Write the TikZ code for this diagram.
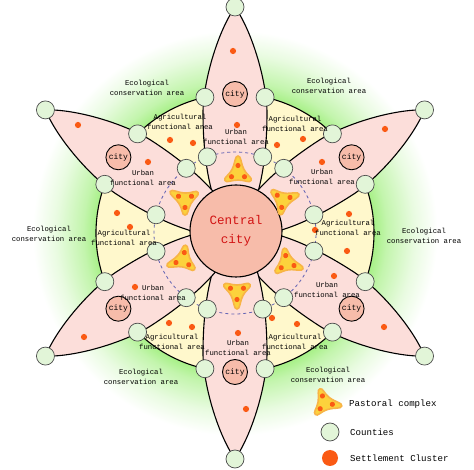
\documentclass[tikz,border=0pt]{standalone}
\usepackage{fontspec}
\newfontfamily\labelfont{Liberation Mono}
\definecolor{petalpink}{RGB}{252,222,218}
\definecolor{agriyellow}{RGB}{255,248,204}
\definecolor{glowgreen}{RGB}{155,238,118}
\definecolor{citysalmon}{RGB}{247,188,170}
\definecolor{countygreen}{RGB}{226,245,216}
\definecolor{settleorange}{RGB}{250,90,20}
\definecolor{pastyellow}{RGB}{252,210,60}
\definecolor{pastorange}{RGB}{248,180,70}
\definecolor{ringblue}{RGB}{100,100,180}
\definecolor{centralred}{RGB}{210,20,20}
\pgfdeclareradialshading{ecoglow}{\pgfpointorigin}{color(0bp)=(glowgreen); color(14.5bp)=(glowgreen); color(16.5bp)=(glowgreen!60); color(19.5bp)=(glowgreen!22); color(22bp)=(white); color(50bp)=(white)}
\tikzset{
  pics/pastoral/.style={code={
    \filldraw[draw=pastorange, line width=1.6, fill=pastyellow]
      plot[smooth cycle, tension=1] coordinates {(90:17) (150:7) (210:15) (270:7) (330:15) (30:7)};
    \fill[settleorange] (90:7.5) circle (2.6) (210:7.5) circle (2.6) (330:7.5) circle (2.6);
  }}
}
\begin{document}
\begin{tikzpicture}[x=1pt,y=1pt,
    petal/.style={fill=petalpink, draw=black, line width=1.1},
    county/.style={circle, draw=gray!60!black, line width=0.7, fill=countygreen, minimum size=18, inner sep=0},
    city/.style={circle, draw=black, line width=0.9, fill=citysalmon, minimum size=25, inner sep=0, font=\labelfont\fontsize{8}{8}\selectfont},
    arealabel/.style={align=center, text=black, inner sep=0, font=\labelfont\fontsize{7.3}{10}\selectfont},
    settle/.style={fill=settleorange},
    legendtext/.style={anchor=west, inner sep=0, text=black, font=\labelfont\fontsize{9.1}{11}\selectfont}]
  \useasboundingbox[fill=white] (-235,-237) rectangle (239,233);
  % green glow of the conservation areas
  \shade[shading=ecoglow] (0,0) circle (230);
  \filldraw[fill=agriyellow, draw=black, line width=1.1] (0,0) circle (139);
  % the six petals
  \foreach \a in {90,33,-33,-90,-147,147}
    \filldraw[petal, rotate=\a] (0,0) .. controls (20,25) and (75,32) .. (120,32)
      .. controls (150,32) and (200,18) .. (226,0)
      .. controls (200,-18) and (150,-32) .. (120,-32)
      .. controls (75,-32) and (20,-25) .. (0,0) -- cycle;
  \draw[ringblue, dashed, line width=0.8] (0,0) circle (81);
  \node[circle, draw=black, line width=1.1, fill=citysalmon, minimum size=92, inner sep=0,
    align=center, text=centralred, font=\labelfont\fontsize{12.6}{19}\selectfont] (central) at (1,2) {Central\\city};
  % pastoral complexes
  \pic[rotate=0] (past-n) at (3,60) {pastoral};
  \pic[rotate=-70] (past-ne) at (48,33) {pastoral};
  \pic[rotate=-110] (past-se) at (52,-30) {pastoral};
  \pic[rotate=180] (past-s) at (2,-59) {pastoral};
  \pic[rotate=110] (past-sw) at (-52,-27) {pastoral};
  \pic[rotate=60] (past-nw) at (-50,33) {pastoral};
  % settlement clusters
  \foreach \p in {(-2,182),(-157,108),(150,104),(11,-176),(-151,-104),(149,-94),
      (2,108),(-87,71),(87,71),(-100,-54),(99,-43),(3,-100),
      (-65,93),(-42,90),(42,88),(68,94),(114,19),(112,-18),(80,3),
      (-118,20),(-105,6),(-66,-90),(-43,-94),(37,-85),(62,-91)}
    \fill[settle] \p circle (3.1);
  % counties and cities
  \foreach \a/\n in {90/n,33/ne,-33/se,-90/s,-147/sw,147/nw}{
    \node[county] (tip-\n) at (\a:226) {};
    \node[county] (outa-\n) at ({\a+12.5}:139) {};
    \node[county] (outb-\n) at ({\a-12.5}:139) {};
    \node[county] (ina-\n) at ({\a+20}:81) {};
    \node[county] (inb-\n) at ({\a-20}:81) {};
    \node[city] (city-\n) at (\a:139) {city};
  }
  % area labels
  \node[arealabel] (eco-nw) at (-88,145) {Ecological\\conservation area};
  \node[arealabel] (eco-ne) at (94,147) {Ecological\\conservation area};
  \node[arealabel] (eco-e) at (189,-3) {Ecological\\conservation area};
  \node[arealabel] (eco-se) at (93,-142) {Ecological\\conservation area};
  \node[arealabel] (eco-sw) at (-94,-144) {Ecological\\conservation area};
  \node[arealabel] (eco-w) at (-186,-1) {Ecological\\conservation area};
  \node[arealabel] (agri-nw) at (-55,111) {Agricultural\\functional area};
  \node[arealabel] (agri-ne) at (60,109) {Agricultural\\functional area};
  \node[arealabel] (agri-e) at (113,5) {Agricultural\\functional area};
  \node[arealabel] (agri-se) at (60,-109) {Agricultural\\functional area};
  \node[arealabel] (agri-sw) at (-63,-109) {Agricultural\\functional area};
  \node[arealabel] (agri-w) at (-111,-5) {Agricultural\\functional area};
  \node[arealabel] (urban-n) at (1,96) {Urban\\functional area};
  \node[arealabel] (urban-nw) at (-92,55) {Urban\\functional area};
  \node[arealabel] (urban-ne) at (87,56) {Urban\\functional area};
  \node[arealabel] (urban-se) at (92,-57) {Urban\\functional area};
  \node[arealabel] (urban-sw) at (-82,-60) {Urban\\functional area};
  \node[arealabel] (urban-s) at (3,-115) {Urban\\functional area};
  % legend
  \pic[rotate=-100] (leg-past) at (90,-170) {pastoral};
  \node[legendtext] (leg-past-text) at (114,-171) {Pastoral complex};
  \node[county] (leg-county) at (95,-199) {};
  \node[legendtext] (leg-county-text) at (115,-199) {Counties};
  \node[circle, fill=settleorange, minimum size=16, inner sep=0] (leg-settle) at (95,-225) {};
  \node[legendtext] (leg-settle-text) at (115,-225) {Settlement Cluster};
\end{tikzpicture}
\end{document}
